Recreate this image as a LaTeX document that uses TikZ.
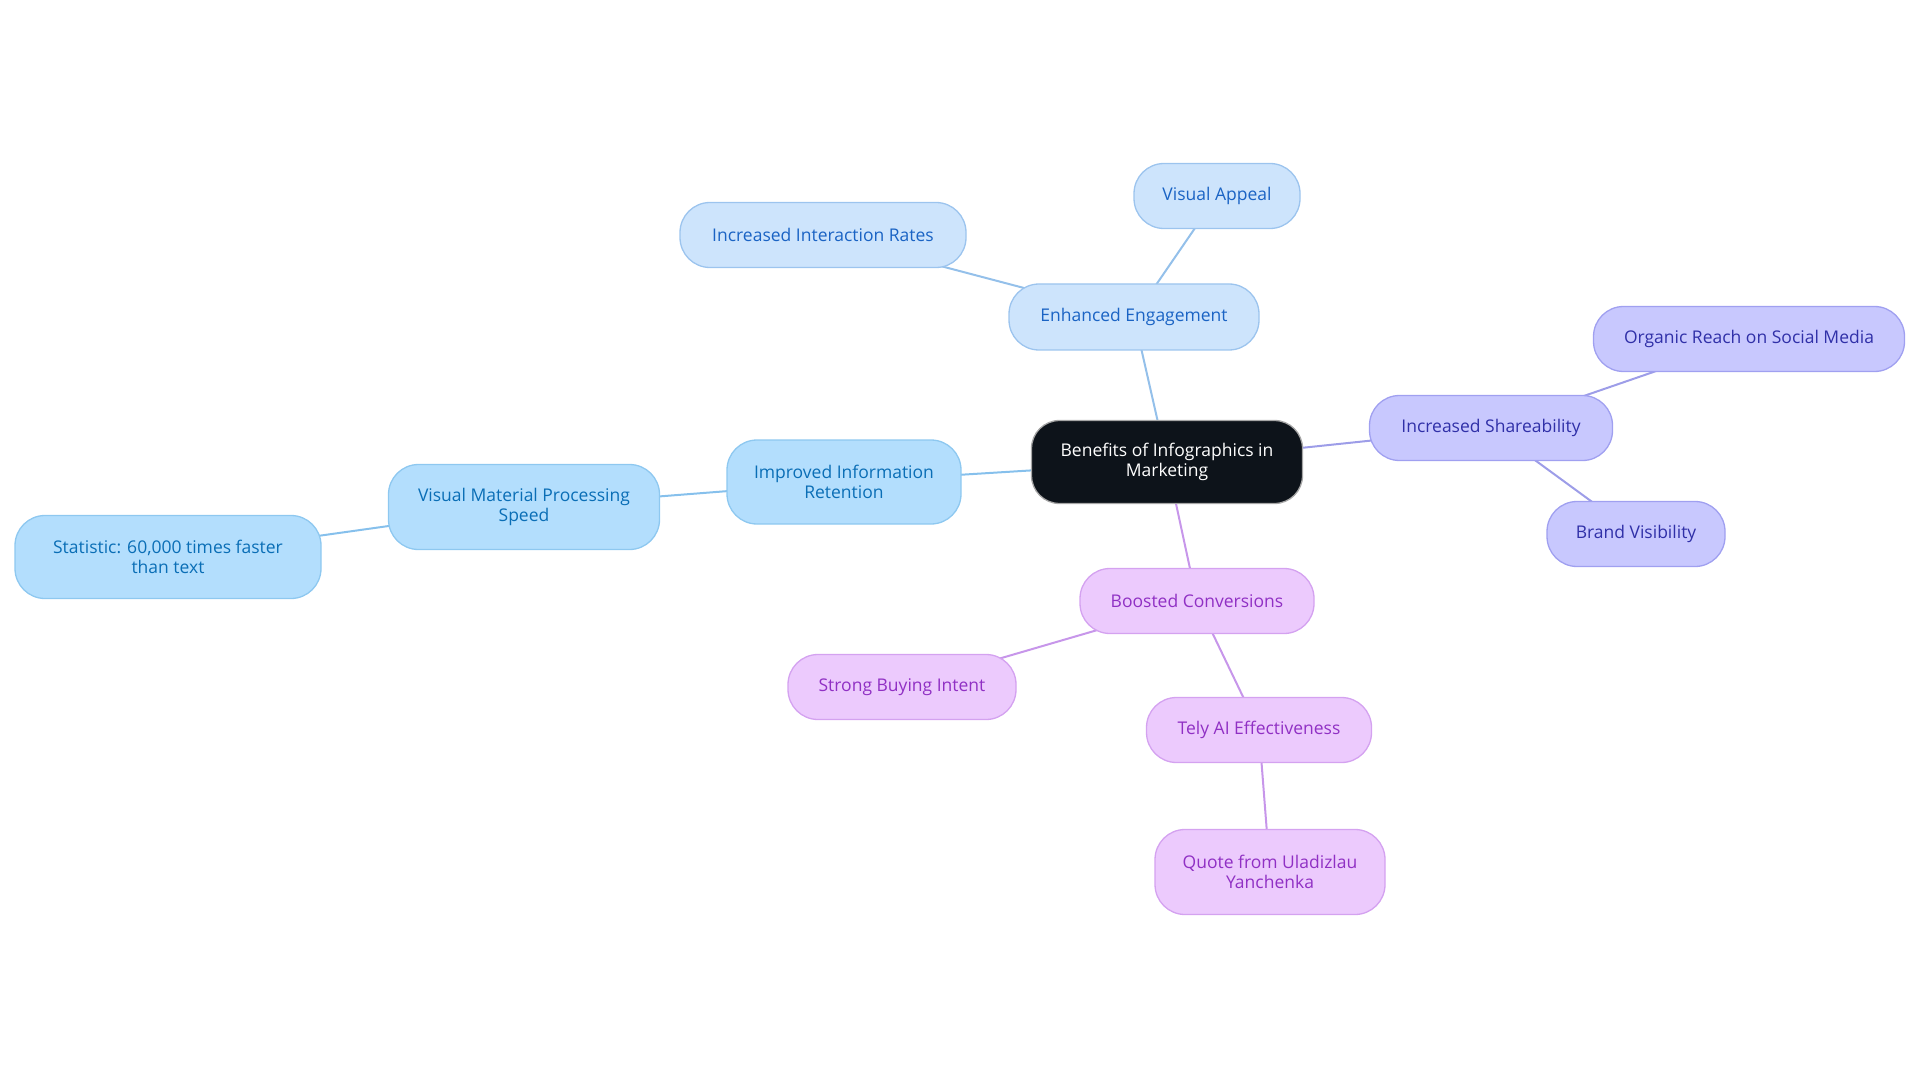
\documentclass[tikz,border=0pt]{standalone}
\usepackage{fontspec}
\setmainfont{Open Sans}
\usetikzlibrary{backgrounds}
\definecolor{rootfill}{HTML}{0D131A}
\definecolor{engfill}{HTML}{CDE4FC}
\definecolor{engdraw}{HTML}{9CC4EE}
\definecolor{engtext}{HTML}{1A63C4}
\definecolor{engline}{HTML}{94C0EA}
\definecolor{retfill}{HTML}{B3DEFD}
\definecolor{retdraw}{HTML}{8EC8F0}
\definecolor{rettext}{HTML}{0A6EB6}
\definecolor{retline}{HTML}{86C0EC}
\definecolor{shafill}{HTML}{C8C8FE}
\definecolor{shadraw}{HTML}{A0A0F0}
\definecolor{shatext}{HTML}{3030A8}
\definecolor{shaline}{HTML}{9D9DE8}
\definecolor{convfill}{HTML}{ECCAFD}
\definecolor{convdraw}{HTML}{D4A2F0}
\definecolor{convtext}{HTML}{9030C4}
\definecolor{convline}{HTML}{C796EA}
\tikzset{
  box/.style={rectangle, rounded corners=30pt, line width=1.3pt, align=center,
    font=\fontsize{17.5}{20}\selectfont, inner sep=0pt},
  rootbox/.style={box, fill=rootfill, draw=gray!70, text=white, rounded corners=28pt},
  engbox/.style={box, fill=engfill, draw=engdraw, text=engtext},
  retbox/.style={box, fill=retfill, draw=retdraw, text=rettext},
  shabox/.style={box, fill=shafill, draw=shadraw, text=shatext},
  convbox/.style={box, fill=convfill, draw=convdraw, text=convtext},
  link/.style={line width=2pt},
}
\begin{document}
\begin{tikzpicture}[x=1pt,y=-1pt]
\useasboundingbox (0,0) rectangle (1920,1083);
\node[rootbox, minimum width=271pt, minimum height=83pt] (root) at (1167,462) {Benefits of Infographics in\\Marketing};
\node[engbox, minimum width=250pt, minimum height=66pt] (eng) at (1134,317) {Enhanced Engagement};
\node[engbox, minimum width=166pt, minimum height=65pt] (app) at (1217,196) {Visual Appeal};
\node[engbox, minimum width=286pt, minimum height=65pt] (int) at (823,235) {Increased Interaction Rates};
\node[shabox, minimum width=243pt, minimum height=65pt] (sha) at (1491,428) {Increased Shareability};
\node[shabox, minimum width=311pt, minimum height=65pt] (org) at (1749,339) {Organic Reach on Social Media};
\node[shabox, minimum width=178pt, minimum height=65pt] (bra) at (1636,534) {Brand Visibility};
\node[retbox, minimum width=234pt, minimum height=84pt] (ret) at (844,482) {Improved Information\\Retention};
\node[retbox, minimum width=271pt, minimum height=85pt] (vis) at (524,507) {Visual Material Processing\\Speed};
\node[retbox, minimum width=306pt, minimum height=83pt] (sta) at (168,557) {Statistic: 60,000 times faster\\than text};
\node[convbox, minimum width=234pt, minimum height=65pt] (con) at (1197,601) {Boosted Conversions};
\node[convbox, minimum width=228pt, minimum height=65pt] (buy) at (902,687) {Strong Buying Intent};
\node[convbox, minimum width=225pt, minimum height=65pt] (tel) at (1259,730) {Tely AI Effectiveness};
\node[convbox, minimum width=230pt, minimum height=85pt] (quo) at (1270,872) {Quote from Uladizlau\\Yanchenka};
\begin{pgfonlayer}{background}
\draw[link, engline] (root.center) -- (eng.center);
\draw[link, engline] (eng.center) -- (app.center);
\draw[link, engline] (eng.center) -- (int.center);
\draw[link, shaline] (root.center) -- (sha.center);
\draw[link, shaline] (sha.center) -- (org.center);
\draw[link, shaline] (sha.center) -- (bra.center);
\draw[link, retline] (root.center) -- (ret.center);
\draw[link, retline] (ret.center) -- (vis.center);
\draw[link, retline] (vis.center) -- (sta.center);
\draw[link, convline] (root.center) -- (con.center);
\draw[link, convline] (con.center) -- (buy.center);
\draw[link, convline] (con.center) -- (tel.center);
\draw[link, convline] (tel.center) -- (quo.center);
\end{pgfonlayer}
\end{tikzpicture}
\end{document}
